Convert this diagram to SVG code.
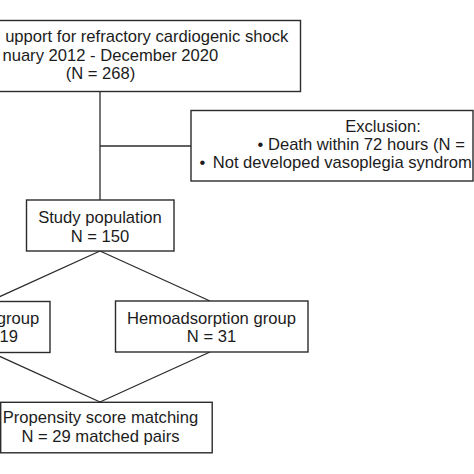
<svg xmlns="http://www.w3.org/2000/svg" width="474" height="474" viewBox="0 0 474 474">
<style>
.box{fill:#fff;stroke:#2b2b2b;stroke-width:1.4}
.ln{fill:none;stroke:#2b2b2b;stroke-width:1.3}
text{font-family:"Liberation Sans",Arial,sans-serif;font-size:16.6px;fill:#1c1c1c}
.m{text-anchor:middle}
.e{text-anchor:end}
</style>
<rect width="474" height="474" fill="#fff"/>
<g id="connectors">
<line class="ln" x1="100" y1="91" x2="100" y2="200"/>
<line class="ln" x1="100" y1="146" x2="191" y2="146"/>
<line class="ln" x1="100" y1="251" x2="-10" y2="301"/>
<line class="ln" x1="100" y1="251" x2="210" y2="301"/>
<line class="ln" x1="-10" y1="352" x2="100" y2="402"/>
<line class="ln" x1="210" y1="352" x2="100" y2="402"/>
</g>
<g id="source">
<rect class="box" x="-20" y="20.5" width="320.5" height="71"/>
<text class="e" x="288.3" y="41.7">upport for refractory cardiogenic shock</text>
<text class="e" x="218.3" y="60.6">nuary 2012 - December 2020</text>
<text class="m" x="100.5" y="79">(N = 268)</text>
</g>
<g id="exclusion">
<rect class="box" x="191" y="110.5" width="282" height="70.5"/>
<text class="m" x="383" y="132.3">Exclusion:</text>
<text x="257.5" y="150.2">• Death within 72 hours (N =</text>
<text y="168.3"><tspan x="199.5">•</tspan><tspan x="212.7">Not developed vasoplegia syndrom</tspan></text>
</g>
<g id="study">
<rect class="box" x="26.5" y="200" width="147.5" height="51"/>
<text class="m" x="100" y="223">Study population</text>
<text class="m" x="100" y="241.5">N = 150</text>
</g>
<g id="control">
<rect class="box" x="-70" y="301.5" width="120" height="51"/>
<text class="e" x="39.3" y="324">group</text>
<text class="e" x="18" y="342">19</text>
</g>
<g id="hemo">
<rect class="box" x="115.5" y="301" width="192.5" height="51"/>
<text class="m" x="211.5" y="323.5">Hemoadsorption group</text>
<text class="m" x="211.5" y="342">N = 31</text>
</g>
<g id="psm">
<rect class="box" x="0.7" y="402.3" width="211.5" height="50.5"/>
<text class="m" x="100.5" y="423.4">Propensity score matching</text>
<text class="m" x="100.5" y="441.7">N = 29 matched pairs</text>
</g>
</svg>
